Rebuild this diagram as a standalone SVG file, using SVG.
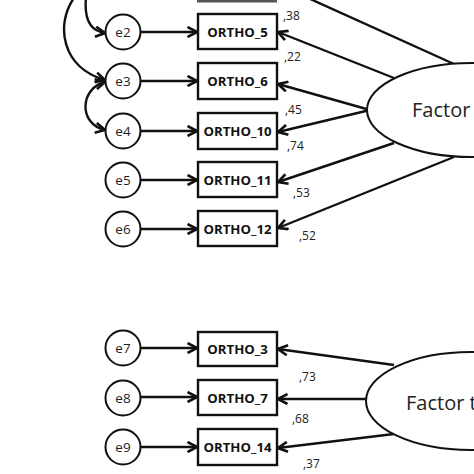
<svg xmlns="http://www.w3.org/2000/svg" width="474" height="474" viewBox="0 0 474 474">
<style>
.ln{stroke:#111;stroke-width:2.4;fill:none}
.box{fill:#fff;stroke:#111;stroke-width:2.4}
.err{fill:#fff;stroke:#111;stroke-width:2}
.lat{fill:#fff;stroke:#111;stroke-width:2}
.bt{font-family:"Open Sans","Liberation Sans",sans-serif;font-weight:bold;font-size:13.2px;fill:#111;text-anchor:middle}
.et{font-family:"Open Sans","Liberation Sans",sans-serif;font-size:13.5px;fill:#222;text-anchor:middle}
.wt{font-family:"Open Sans","Liberation Sans",sans-serif;font-size:12px;fill:#222}
.ft{font-family:"Open Sans","Liberation Sans",sans-serif;font-size:20px;fill:#222}
</style>
<defs>
<marker id="ah" viewBox="0 0 12 12" refX="10.5" refY="6" markerWidth="12" markerHeight="12" markerUnits="userSpaceOnUse" orient="auto-start-reverse">
<path d="M1,1 L10.5,6 L1,11" fill="none" stroke="#111" stroke-width="2.6"/>
</marker>
</defs>
<rect x="197" y="-10" width="80" height="12.5" fill="#555"/>
<g id="connectors">
<path class="ln" d="M86 -2 Q83 30 105 33" marker-end="url(#ah)"/>
<path class="ln" d="M74 -2 C55 25 62 68 105 80" marker-end="url(#ah)"/>
<path class="ln" d="M105 82 C80 88 78 124 105 130" marker-start="url(#ah)" marker-end="url(#ah)"/>
<line class="ln" x1="141" y1="32" x2="197" y2="32" marker-end="url(#ah)"/>
<line class="ln" x1="141" y1="81" x2="197" y2="81" marker-end="url(#ah)"/>
<line class="ln" x1="141" y1="131" x2="197" y2="131" marker-end="url(#ah)"/>
<line class="ln" x1="141" y1="180" x2="197" y2="180" marker-end="url(#ah)"/>
<line class="ln" x1="141" y1="229" x2="197" y2="229" marker-end="url(#ah)"/>
<line class="ln" x1="141" y1="348" x2="197" y2="348" marker-end="url(#ah)"/>
<line class="ln" x1="141" y1="397" x2="197" y2="397" marker-end="url(#ah)"/>
<line class="ln" x1="141" y1="447" x2="197" y2="447" marker-end="url(#ah)"/>
<line class="ln" x1="454" y1="64" x2="308" y2="-2"/>
<line class="ln" x1="394" y1="78" x2="278" y2="32" marker-end="url(#ah)"/>
<line class="ln" x1="370" y1="110" x2="278" y2="84" marker-end="url(#ah)"/>
<line class="ln" x1="370" y1="110" x2="278" y2="132" marker-end="url(#ah)"/>
<line class="ln" x1="394" y1="143" x2="278" y2="182" marker-end="url(#ah)"/>
<line class="ln" x1="454" y1="157" x2="278" y2="228" marker-end="url(#ah)"/>
<line class="ln" x1="394" y1="365" x2="278" y2="349" marker-end="url(#ah)"/>
<line class="ln" x1="370" y1="399" x2="278" y2="399" marker-end="url(#ah)"/>
<line class="ln" x1="394" y1="434" x2="278" y2="448" marker-end="url(#ah)"/>
</g>
<g id="weights">
<text class="wt" x="283" y="20">,38</text>
<text class="wt" x="284" y="61">,22</text>
<text class="wt" x="285" y="114">,45</text>
<text class="wt" x="287" y="150">,74</text>
<text class="wt" x="293" y="197">,53</text>
<text class="wt" x="299" y="240">,52</text>
<text class="wt" x="299" y="381">,73</text>
<text class="wt" x="292" y="423">,68</text>
<text class="wt" x="303" y="468">,37</text>
</g>
<g id="e2"><circle class="err" cx="123" cy="32" r="17.5"/><text class="et" x="123" y="36.5">e2</text></g>
<g id="e3"><circle class="err" cx="123" cy="81" r="17.5"/><text class="et" x="123" y="85.5">e3</text></g>
<g id="e4"><circle class="err" cx="123" cy="131" r="17.5"/><text class="et" x="123" y="135.5">e4</text></g>
<g id="e5"><circle class="err" cx="123" cy="180" r="17.5"/><text class="et" x="123" y="184.5">e5</text></g>
<g id="e6"><circle class="err" cx="123" cy="229" r="17.5"/><text class="et" x="123" y="233.5">e6</text></g>
<g id="e7"><circle class="err" cx="123" cy="348" r="17.5"/><text class="et" x="123" y="352.5">e7</text></g>
<g id="e8"><circle class="err" cx="123" cy="398" r="17.5"/><text class="et" x="123" y="402.5">e8</text></g>
<g id="e9"><circle class="err" cx="123" cy="447" r="17.5"/><text class="et" x="123" y="451.5">e9</text></g>
<g id="ortho5"><rect class="box" x="198" y="14" width="79" height="35"/><text class="bt" x="237.5" y="36.5">ORTHO_5</text></g>
<g id="ortho6"><rect class="box" x="198" y="63" width="79" height="36"/><text class="bt" x="237.5" y="86">ORTHO_6</text></g>
<g id="ortho10"><rect class="box" x="198" y="113" width="79" height="36"/><text class="bt" x="237.5" y="136">ORTHO_10</text></g>
<g id="ortho11"><rect class="box" x="198" y="162" width="79" height="35"/><text class="bt" x="237.5" y="185">ORTHO_11</text></g>
<g id="ortho12"><rect class="box" x="198" y="211" width="79" height="35"/><text class="bt" x="237.5" y="234">ORTHO_12</text></g>
<g id="ortho3"><rect class="box" x="198" y="332" width="79" height="34"/><text class="bt" x="237.5" y="354">ORTHO_3</text></g>
<g id="ortho7"><rect class="box" x="198" y="380" width="79" height="35"/><text class="bt" x="237.5" y="402.5">ORTHO_7</text></g>
<g id="ortho14"><rect class="box" x="198" y="429" width="79" height="36"/><text class="bt" x="237.5" y="452">ORTHO_14</text></g>
<g id="factor1"><ellipse class="lat" cx="472" cy="110" rx="105" ry="47"/><text class="ft" x="412" y="117">Factor</text></g>
<g id="factor2"><ellipse class="lat" cx="471" cy="401" rx="105" ry="49"/><text class="ft" x="406" y="410">Factor t</text></g>
</svg>
